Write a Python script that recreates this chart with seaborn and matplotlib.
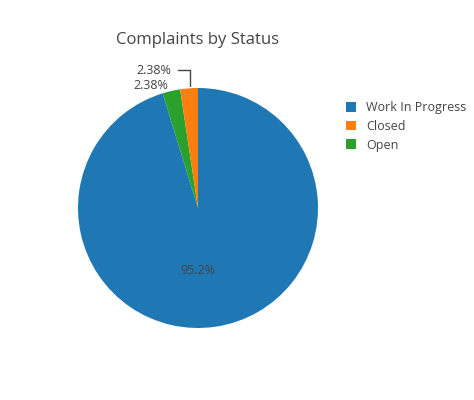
import matplotlib
matplotlib.use("Agg")
import matplotlib.pyplot as plt
import seaborn as sns

sns.set_theme(style="white")
plt.rcParams['font.family'] = ['Open Sans', 'DejaVu Sans']

statuses = ["Work In Progress", "Open", "Closed"]
counts = [40, 1, 1]
colors = ["#1f77b4", "#2ca02c", "#ff7f0e"]
legend_order = ["Work In Progress", "Closed", "Open"]

fig = plt.figure(figsize=(4.74, 4.0), dpi=100)
ax = fig.add_axes([78/474, 72/400, 240/474, 240/400])
wedges, _ = ax.pie(counts, colors=colors, startangle=90, counterclock=False,
                   wedgeprops=dict(linewidth=0))
total = sum(counts)
ax.text(0.0, -0.52, f"{counts[0]/total*100:.1f}%", ha="center", va="center",
        fontsize=9, color="#444444")
# small slice labels
pct = [c/total*100 for c in counts]
ax.annotate(f"{pct[2]:.2f}%", xy=(-0.07, 0.99), xytext=(-0.22, 1.15),
            ha="right", va="center", fontsize=9, color="#444444",
            arrowprops=dict(arrowstyle="-", color="#444444", lw=1,
                            connectionstyle="angle,angleA=0,angleB=90"))
ax.text(-0.25, 1.02, f"{pct[1]:.2f}%", ha="right", va="center",
        fontsize=9, color="#444444")
ax.set_aspect("equal")
ax.set_xlim(-1, 1); ax.set_ylim(-1, 1)

fig.text(198/474, 1 - 40/400, "Complaints by Status", ha="center", va="center",
         fontsize=12, color="#444444")

hmap = dict(zip(statuses, wedges))
leg = fig.legend([hmap[s] for s in legend_order], legend_order,
                 loc="upper left", bbox_to_anchor=(335/474, 1 - 90/400),
                 frameon=False, fontsize=9, handlelength=0.8, handleheight=0.8,
                 labelspacing=0.45)
for t in leg.get_texts():
    t.set_color("#444444")
fig.savefig("out.png", dpi=100)
